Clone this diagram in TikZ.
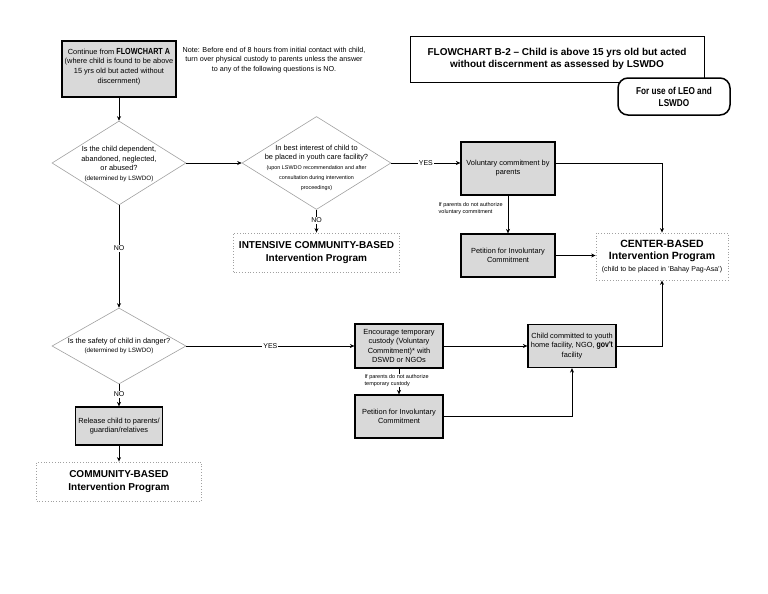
\documentclass[tikz,border=0pt]{standalone}
\usepackage{fontspec}
\setmainfont{Liberation Sans}
\newfontfamily\narrowfont[FakeStretch=0.82]{Liberation Sans}
\usetikzlibrary{shapes.geometric,arrows.meta}
\definecolor{boxgray}{HTML}{D9D9D9}
\definecolor{diagray}{HTML}{A0A0A0}
\begin{document}
\begin{tikzpicture}[x=1pt,y=-1pt,
  graybox/.style={draw, line width=1.2pt, fill=boxgray, inner sep=1pt, align=center, font=\fontsize{7.4}{9.6}\selectfont},
  dotbox/.style={draw=diagray, dotted, line width=0.8pt, align=center, inner sep=1pt},
  dia/.style={draw=diagray, diamond, line width=0.6pt, inner sep=0pt},
  txt/.style={align=center, inner sep=0pt, font=\fontsize{7.4}{9.8}\selectfont},
  tiny/.style={align=left, inner sep=0.5pt, font=\fontsize{5.5}{7.5}\selectfont},
  lbl/.style={fill=white, inner sep=1pt, font=\fontsize{7}{8}\selectfont},
  arr/.style={-{Stealth[length=4.5pt,width=4pt]}, line width=0.8pt}]
\useasboundingbox (0,0) rectangle (768,594);

% start box
\node[graybox, minimum width=114pt, minimum height=56pt] (start) at (119,69) {};
\node[txt] (starttxt) at (119,66.5) {Continue from {\narrowfont\bfseries\fontsize{8.8}{9.8}\selectfont FLOWCHART A}\\(where child is found to be above\\15 yrs old but acted without\\discernment)};

% note
\node[txt, font=\fontsize{7.2}{9.5}\selectfont] (note) at (274,60) {Note: Before end of 8 hours from initial contact with child,\\turn over physical custody to parents unless the answer\\to any of the following questions is NO.};

% title
\node[draw, line width=0.8pt, minimum width=294pt, minimum height=46pt, align=center, font=\bfseries\fontsize{10}{12}\selectfont] (title) at (557,59) {FLOWCHART B-2 -- Child is above 15 yrs old but acted\\without discernment as assessed by LSWDO};
\node[draw, fill=white, line width=1.5pt, rounded corners=10pt, minimum width=112pt, minimum height=37pt, align=center, font=\narrowfont\bfseries\fontsize{10}{12}\selectfont] (use) at (674,96.5) {For use of LEO and\\LSWDO};

% diamond 1
\node[dia, minimum width=134pt, minimum height=84pt] (d1) at (119,163) {};
\node[txt] (d1txt) at (119,164) {Is the child dependent,\\abandoned, neglected,\\or abused?\\{\fontsize{6.3}{7}\selectfont (determined by LSWDO)}};

% diamond 2
\node[dia, minimum width=149pt, minimum height=93pt] (d2) at (316.5,163) {};
\node[txt] (d2txt) at (316.5,167.5) {In best interest of child to\\be placed in youth care facility?\\{\fontsize{5.4}{8.5}\selectfont (upon LSWDO recommendation and after}\\{\fontsize{5.4}{8.5}\selectfont consultation during intervention}\\{\fontsize{5.4}{10}\selectfont proceedings)}};

% intensive
\node[dotbox, minimum width=166pt, minimum height=39pt, font=\bfseries\fontsize{10}{13}\selectfont] (intensive) at (316.5,252.5) {INTENSIVE COMMUNITY-BASED\\Intervention Program};

% voluntary
\node[graybox, minimum width=94pt, minimum height=53pt] (vol) at (508,168.5) {};
\node[txt] (voltxt) at (508,168) {Voluntary commitment by\\parents};
\node[tiny, anchor=west] (note1) at (438,208.5) {If parents do not authorize\\voluntary commitment};

% petition 1
\node[graybox, minimum width=94pt, minimum height=43pt] (pet1) at (508,255.5) {Petition for Involuntary\\Commitment};

% center-based
\node[dotbox, minimum width=132pt, minimum height=47pt] (center) at (662,256.5) {{\bfseries\fontsize{10.5}{14}\selectfont CENTER-BASED}\\{\bfseries\fontsize{10.5}{11}\selectfont Intervention Program}\\{\fontsize{7}{8.5}\selectfont (child to be placed in 'Bahay Pag-Asa')}};

% diamond 3
\node[dia, minimum width=134pt, minimum height=76pt] (d3) at (119,346) {};
\node[txt] (d3txt) at (119,346) {Is the safety of child in danger?\\{\fontsize{6.3}{10}\selectfont (determined by LSWDO)}};

% encourage
\node[graybox, minimum width=88pt, minimum height=44pt] (enc) at (399,346) {Encourage temporary\\custody (Voluntary\\Commitment)* with\\DSWD or NGOs};

% petition 2
\node[graybox, minimum width=88pt, minimum height=43pt] (pet2) at (399,416.5) {Petition for Involuntary\\Commitment};

% child committed
\node[graybox, minimum width=88pt, minimum height=43pt] (child) at (572,346) {Child committed to youth\\home facility, NGO, {\narrowfont\bfseries\fontsize{8.5}{9.6}\selectfont gov't}\\facility};

% release
\node[graybox, minimum width=87pt, minimum height=38pt] (release) at (119,426) {Release child to parents/\\guardian/relatives};

% community
\node[dotbox, minimum width=165pt, minimum height=39pt, font=\bfseries\fontsize{10}{13}\selectfont] (community) at (119,481.5) {COMMUNITY-BASED\\Intervention Program};

% connectors
\draw[arr] (start.south) -- (d1.north);
\draw[arr] (d1.east) -- (d2.west);
\draw[arr] (d2.south) -- node[lbl, pos=0.45] (no2) {NO} (intensive.north);
\draw[arr] (d2.east) -- node[lbl, pos=0.5] (yes2) {YES} (vol.west |- d2.east);
\draw[arr] (vol.east |- d2.east) -| (center.north);
\draw[arr] (vol.south) -- (pet1.north);
\draw[arr] (pet1.east) -- (center.west |- pet1.east);
\draw[arr] (d1.south) -- node[lbl, pos=0.42] (no1) {NO} (d3.north);
\draw[arr] (d3.east) -- node[lbl, pos=0.5] (yes3) {YES} (enc.west);
\draw[arr] (enc.east) -- (child.west);
\draw[arr] (enc.south) -- (pet2.north);
\node[tiny, anchor=west, fill=white] (note2) at (364,380.5) {If parents do not authorize\\temporary custody};
\draw[arr] (pet2.east) -| (child.south);
\draw[arr] (child.east) -| (center.south);
\draw[arr] (d3.south) -- node[lbl, pos=0.45] (no3) {NO} (release.north);
\draw[arr] (release.south) -- (community.north);
\end{tikzpicture}
\end{document}
